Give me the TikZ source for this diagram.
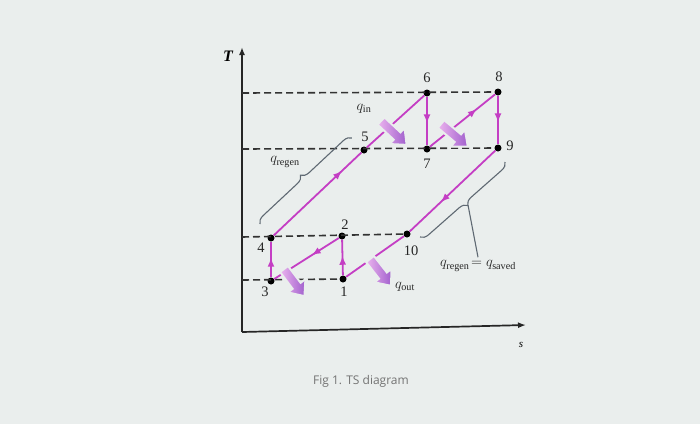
\documentclass[tikz,border=0pt]{standalone}
\usepackage{fontspec}
\setmainfont{Liberation Serif}
\setsansfont{Open Sans}
\usetikzlibrary{arrows.meta,decorations.markings,decorations.pathreplacing,calc}
\definecolor{mag}{RGB}{196,62,196}
\definecolor{bg}{RGB}{234,238,237}
\definecolor{brc}{RGB}{95,105,115}
\definecolor{fa1}{RGB}{236,180,238}
\definecolor{fa2}{RGB}{160,95,205}
\newcommand\fatarr[4]{%
  \begin{scope}[shift={(#1,#2)},rotate=#3]
    \shadedraw[left color=fa1,right color=fa2,draw=bg,line width=2pt]
      (0,-5) -- (#4-13,-5) -- (#4-13,-11) -- (#4,0) -- (#4-13,11) -- (#4-13,5) -- (0,5) -- cycle;
  \end{scope}}
\begin{document}
\begin{tikzpicture}[x=1pt,y=-1pt,
  pt/.style={circle,fill=black,inner sep=0pt,minimum size=7pt},
  proc/.style={draw=mag,line width=1.8pt},
  midarr/.style={postaction={decorate},decoration={markings,mark=at position #1 with {\arrow[color=mag]{Latex[length=9pt,width=7pt]}}}},
  iso/.style={dash pattern=on 7pt off 4pt,line width=1.6pt,black!80},
  lbl/.style={font=\fontsize{14.5}{16}\selectfont,text=black!85},
  bracestyle/.style={draw=brc,line width=1.1pt,decorate,decoration={brace,amplitude=8pt}},
  axis/.style={line width=1.7pt,black!85,-{Latex[length=8pt,width=6pt]}}]

\fill[bg] (0,0) rectangle (700,424);
\useasboundingbox (0,0) rectangle (700,424);

% axes
\coordinate (O) at (242,332);
\coordinate (Ttop) at (242,47);
\coordinate (Send) at (526,325);
\draw[axis] (O) -- (Ttop);
\draw[axis] (O) -- (Send);
\node[font=\fontsize{16}{18}\selectfont\bfseries\itshape] (Tl) at (228,56) {T};
\node[font=\fontsize{11}{13}\selectfont\itshape] (Sl) at (521,345) {s};

% state points
\node[pt] (p1) at (343,279) {};
\node[pt] (p2) at (342,236) {};
\node[pt] (p3) at (271,281) {};
\node[pt] (p4) at (271,238) {};
\node[pt] (p5) at (364,150) {};
\node[pt] (p6) at (427,93) {};
\node[pt] (p7) at (427,149) {};
\node[pt] (p8) at (498,92) {};
\node[pt] (p9) at (498,148) {};
\node[pt] (p10) at (407,234) {};

% isotherms
\coordinate (a8) at (242,93);
\coordinate (a9) at (242,149);
\coordinate (a10) at (242,237);
\coordinate (a1) at (242,280);
\draw[iso] (a8) -- (p8);
\draw[iso] (a9) -- (p9);
\draw[iso] (a10) -- (p10);
\draw[iso] (a1) -- (p1);

% processes
\draw[proc,midarr=0.78] (p4) -- (p5);
\draw[proc] (p5) -- (p6);
\draw[proc,midarr=0.55] (p6) -- (p7);
\draw[proc,midarr=0.72] (p7) -- (p8);
\draw[proc,midarr=0.55] (p8) -- (p9);
\draw[proc,midarr=0.64] (p9) -- (p10);
\draw[proc] (p10) -- (p1);
\draw[proc,midarr=0.55] (p1) -- (p2);
\draw[proc,midarr=0.42] (p2) -- (p3);
\draw[proc,midarr=0.55] (p3) -- (p4);

% heat arrows
\fatarr{381}{121}{-43}{35}
\fatarr{441}{124}{-40}{35}
\fatarr{284}{269}{-53}{34}
\fatarr{370}{259}{-52}{34}

% braces
\coordinate (b1s) at (260,224);
\coordinate (b1e) at (352,138);
\draw[bracestyle] (b1s) -- (b1e);
\coordinate (b2s) at (505,162);
\coordinate (b2e) at (420,237);
\draw[bracestyle] (b2s) -- (b2e);
\coordinate (b2tip) at (468,205);

% labels
\node[lbl] (l6) at (427,78) {6};
\node[lbl] (l8) at (499,77) {8};
\node[lbl] (l5) at (365,137) {5};
\node[lbl] (l7) at (427,164) {7};
\node[lbl] (l9) at (510,146) {9};
\node[lbl] (l4) at (261,248) {4};
\node[lbl] (l2) at (345,225) {2};
\node[lbl] (l10) at (411,251) {10};
\node[lbl] (l3) at (265,292) {3};
\node[lbl] (l1) at (344,292) {1};
\node[lbl] (qin) at (364,109) {$q_{\mathrm{in}}$};
\node[lbl] (qreg) at (285,162) {$q_{\mathrm{regen}}$};
\node[lbl] (qout) at (405,287) {$q_{\mathrm{out}}$};
\node[lbl] (qeq) at (478,266) {$q_{\mathrm{regen}}\!=q_{\mathrm{saved}}$};
\draw[brc,line width=1.1pt] (b2tip) -- (qeq.north);

\node[font=\sffamily\fontsize{12}{14}\selectfont,text=black!55] (cap) at (361,381) {Fig 1. TS diagram};
\end{tikzpicture}
\end{document}
